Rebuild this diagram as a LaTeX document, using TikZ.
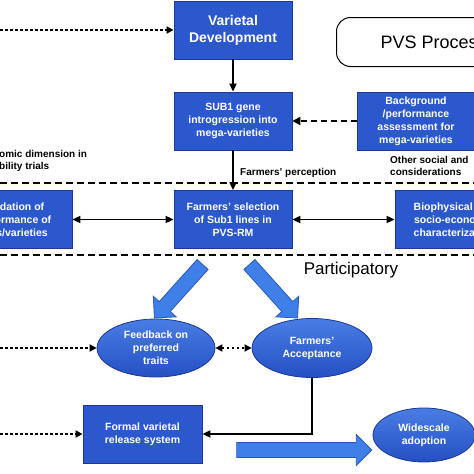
\documentclass[tikz,border=0pt]{standalone}
\usepackage{fontspec}
\setmainfont{Liberation Sans}
\usetikzlibrary{shapes.geometric,shapes.arrows,arrows.meta}
\definecolor{boxblue}{HTML}{2C58CE}
\definecolor{boxedge}{HTML}{1C3892}
\definecolor{ovallight}{HTML}{4A7DE4}
\definecolor{ovaldark}{HTML}{2450C4}
\definecolor{arrowblue}{HTML}{3F80E8}
\definecolor{arrowedge}{HTML}{2A58C0}
\begin{document}
\begin{tikzpicture}[x=1pt, y=-1pt]
\tikzset{
    every node/.style={align=center},
    box/.style={rectangle, fill=boxblue, draw=boxedge, line width=0.8pt,
        text=white, font=\fontsize{10.5}{13}\selectfont\bfseries,
        minimum width=118pt, minimum height=58pt, inner sep=1pt},
    oval/.style={ellipse, top color=ovallight, bottom color=ovaldark,
        draw=boxedge, line width=0.8pt, text=white,
        font=\fontsize{10.5}{13}\selectfont\bfseries, inner sep=0pt},
    note/.style={font=\fontsize{10}{12.5}\selectfont\bfseries, align=left, inner sep=0pt},
    blockarrow/.style={single arrow, fill=arrowblue, draw=arrowedge, line width=0.8pt,
        inner xsep=0pt, inner ysep=7pt, single arrow head extend=8pt, minimum height=#1},
    dotarrow/.style={line width=2.5pt, dash pattern=on 2.5pt off 2.5pt,
        -{Triangle[length=7pt,width=7pt]}},
    dotboth/.style={line width=2.5pt, dash pattern=on 2.5pt off 2.5pt,
        {Triangle[length=7pt,width=7pt]}-{Triangle[length=7pt,width=7pt]}},
    solidarrow/.style={line width=1.8pt, -{Triangle[length=8pt,width=7pt]}},
    solidboth/.style={line width=1.8pt,
        {Triangle[length=8pt,width=7pt]}-{Triangle[length=8pt,width=7pt]}},
    dasharrow/.style={line width=2pt, dash pattern=on 6pt off 4pt,
        -{Triangle[length=8pt,width=8pt]}},
    separator/.style={line width=1.5pt, dash pattern=on 7pt off 4pt}
}
\useasboundingbox (0,0) rectangle (474,474);
\clip (0,0) rectangle (474,474);

\node[box, font=\fontsize{14}{17}\selectfont\bfseries] (vd) at (233,30) {Varietal\\Development};
\node[box] (sub1) at (233,121) {SUB1 gene\\introgression into\\mega-varieties};
\node[box] (bg) at (416,121) {Background\\/performance\\assessment for\\mega-varieties};
\node[rectangle, draw, rounded corners=14pt, line width=1pt, anchor=west,
    minimum height=49pt, inner xsep=44pt, font=\fontsize{18}{20}\selectfont] (pvs) at (336,42) {PVS Process};

\node[note, anchor=west] (econ) at (-1,161) {omic dimension in\\bility trials};
\node[note, anchor=west] (perc) at (240,173) {Farmers' perception};
\node[note, anchor=west] (other) at (390,166) {Other social and\\considerations};

\node[box] (val) at (13,219.5) {Validation of\\performance of\\lines/varieties};
\node[box] (sel) at (233,219.5) {Farmers' selection\\of Sub1 lines in\\PVS-RM};
\node[box] (bio) at (454,219.5) {Biophysical and\\socio-economic\\characterization};

\node[font=\fontsize{17}{20}\selectfont] (part) at (351,270) {Participatory};

\node[blockarrow=72pt, rotate=228] (left) at (181,288.5) {};
\node[blockarrow=72pt, rotate=312] (right) at (271,288.5) {};

\node[oval, minimum width=118pt, minimum height=58pt] (fb) at (156,348) {Feedback on\\preferred\\traits};
\node[oval, minimum width=120pt, minimum height=59pt] (fa) at (312,348) {Farmers'\\Acceptance};
\node[box, minimum width=119pt] (frs) at (142.5,434) {Formal varietal\\release system};
\node[blockarrow=135pt] (flow) at (300.5,450) {};
\node[oval, minimum width=102pt, minimum height=54pt] (wa) at (424,435) {Widescale\\adoption};

\coordinate (in1) at (0,30);
\coordinate (in2) at (0,348);
\coordinate (in3) at (0,434);

\draw[separator] (0,183) -- (474,183);
\draw[separator] (0,255) -- (474,255);

\draw[dotarrow] (in1) -- (vd);
\draw[solidarrow] (vd) -- (sub1);
\draw[dasharrow] (bg) -- (sub1);
\draw[solidarrow] (sub1) -- (sel);
\draw[solidboth] (val) -- (sel);
\draw[solidboth] (sel) -- (bio);
\draw[dotarrow] (in2) -- (fb);
\draw[dotboth] (fb) -- (fa);
\draw[solidarrow] (fa.south) |- (frs.east);
\draw[dotarrow] (in3) -- (frs);
\end{tikzpicture}
\end{document}
